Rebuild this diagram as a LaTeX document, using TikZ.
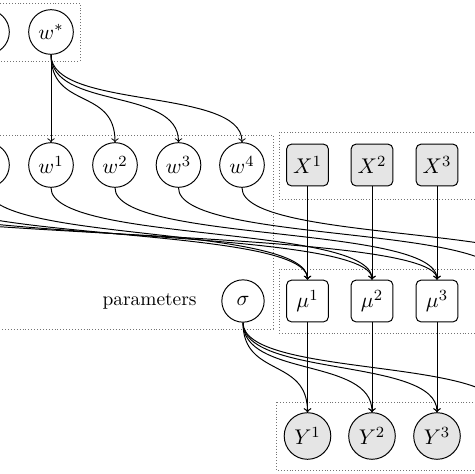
\documentclass[tikz,border=0pt]{standalone}
\begin{document}
\begin{tikzpicture}[x=0.515pt,y=-0.515pt,
  mathfont/.style={font=\fontsize{11pt}{13pt}\selectfont},
  lat/.style={circle,draw,line width=0.5pt,minimum size=23pt,inner sep=0pt,fill=white,mathfont},
  obs/.style={circle,draw,line width=0.5pt,fill=black!10,minimum size=24pt,inner sep=0pt,mathfont},
  obsbox/.style={rectangle,rounded corners=2.5pt,draw,line width=0.5pt,fill=black!10,minimum size=21.5pt,inner sep=0pt,mathfont},
  detbox/.style={rectangle,rounded corners=2.5pt,draw,line width=0.5pt,fill=white,minimum size=21.5pt,inner sep=0pt,mathfont},
  plate/.style={draw=black!55,densely dotted,line width=0.5pt},
  arr/.style={->,line width=0.5pt},
]
\useasboundingbox (0,0) rectangle (474,474);
% plates
\draw[plate] (-60,3) rectangle (80,61);
\draw[plate] (-200,135) rectangle (273,329);
\draw[plate] (279,132) rectangle (560,199);
\draw[plate] (279,269) rectangle (560,333);
\draw[plate] (276,402) rectangle (560,470);
% nodes
\node[lat] (h) at (-13,32) {};
\node[lat] (ws) at (51,32) {$w^*$};
\node[lat] (w0) at (-13,165) {};
\node[lat] (w1) at (51,165) {$w^1$};
\node[lat] (w2) at (115,165) {$w^2$};
\node[lat] (w3) at (178.5,165) {$w^3$};
\node[lat] (w4) at (242,165) {$w^4$};
\node[lat,minimum size=21.8pt] (sig) at (243,301) {$\sigma$};
\node[anchor=east,inner sep=0pt] (par) at (197,301) {parameters};
\node[obsbox] (x1) at (307.5,165) {$X^1$};
\node[obsbox] (x2) at (372,165) {$X^2$};
\node[obsbox] (x3) at (437,165) {$X^3$};
\node[detbox] (mu1) at (307.5,301) {$\mu^1$};
\node[detbox] (mu2) at (372,301) {$\mu^2$};
\node[detbox] (mu3) at (437,301) {$\mu^3$};
\node[obs] (y1) at (307.5,436) {$Y^1$};
\node[obs] (y2) at (372,436) {$Y^2$};
\node[obs] (y3) at (437,436) {$Y^3$};
% off-picture ends
\coordinate (mu4) at (502,280);
\coordinate (mu5) at (567,280);
\coordinate (y4) at (502,412.5);
\coordinate (sa) at (-77,188);
\coordinate (sb) at (-141,188);
\coordinate (sc) at (-205,188);
% edges
\draw[arr] (ws) -- (w1);
\foreach \t in {w2,w3,w4}
  \draw[arr] (ws.south) .. controls +(0,55) and +(0,-55) .. (\t.north);
\foreach \s/\t in {w0.south/mu1.north, w1.south/mu2.north, w2.south/mu3.north,
                   w3.south/mu4, w4.south/mu5,
                   sa/mu1.north, sb/mu2.north, sc/mu3.north}
  \draw[arr] (\s) .. controls +(0,55) and +(0,-55) .. (\t);
\draw[arr] (x1) -- (mu1);
\draw[arr] (x2) -- (mu2);
\draw[arr] (x3) -- (mu3);
\draw[arr] (mu1) -- (y1);
\draw[arr] (mu2) -- (y2);
\draw[arr] (mu3) -- (y3);
\foreach \t in {y1.north,y2.north,y3.north,y4}
  \draw[arr] (sig.south) .. controls +(0,55) and +(0,-55) .. (\t);
\end{tikzpicture}
\end{document}
